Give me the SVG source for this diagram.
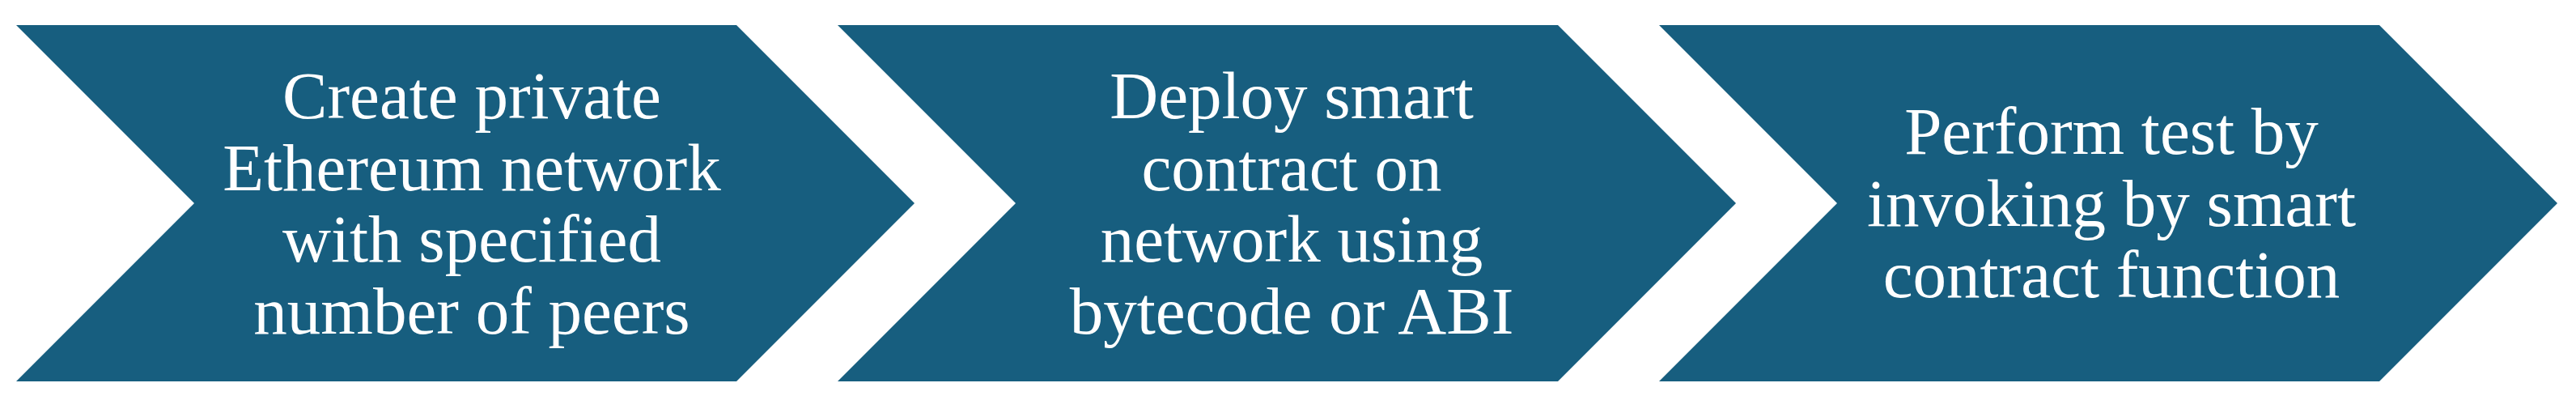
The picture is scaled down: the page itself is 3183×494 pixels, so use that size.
<svg xmlns="http://www.w3.org/2000/svg" width="3183" height="494" viewBox="0 0 3183 494">
<style>
.chev{fill:#175E7F}
.lbl{fill:#FFFFFF;font-family:"Liberation Serif","Times New Roman",serif;font-size:83px;text-anchor:middle}
</style>
<defs>
<polygon id="chevShape" points="0,31 890,31 1110,251 890,471 0,471 220,251"/>
</defs>
<rect width="3183" height="494" fill="#FFFFFF"/>
<g id="connectors"></g>
<g id="step1">
<use href="#chevShape" class="chev" x="20"/>
<text class="lbl"><tspan x="583" y="146">Create private</tspan><tspan x="583" y="235">Ethereum network</tspan><tspan x="583" y="323">with specified</tspan><tspan x="583" y="412">number of peers</tspan></text>
</g>
<g id="step2">
<use href="#chevShape" class="chev" x="1035"/>
<text class="lbl"><tspan x="1596" y="146">Deploy smart</tspan><tspan x="1596" y="235">contract on</tspan><tspan x="1596" y="323">network using</tspan><tspan x="1596" y="412">bytecode or ABI</tspan></text>
</g>
<g id="step3">
<use href="#chevShape" class="chev" x="2050"/>
<text class="lbl"><tspan x="2609" y="190">Perform test by</tspan><tspan x="2609" y="279">invoking by smart</tspan><tspan x="2609" y="367">contract function</tspan></text>
</g>
</svg>
